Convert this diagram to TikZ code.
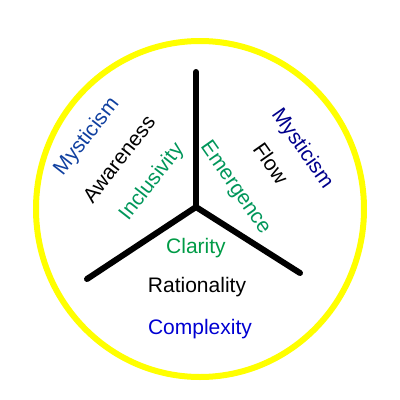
\documentclass[tikz,border=0pt]{standalone}
\usepackage{fontspec}
\setmainfont{Liberation Sans}
\usepackage{tikz}
\usetikzlibrary{positioning}
\definecolor{ringyellow}{RGB}{255,255,0}
\definecolor{mysticblue}{RGB}{16,64,160}
\definecolor{mysticnavy}{RGB}{0,0,140}
\definecolor{tealgreen}{RGB}{0,150,90}
\definecolor{claritygreen}{RGB}{0,155,70}
\definecolor{complexblue}{RGB}{0,0,210}

\begin{document}
\begin{tikzpicture}[x=1pt, y=-1pt,
  word/.style={font=\fontsize{21}{24}\selectfont, inner sep=0pt},
  spoke/.style={line width=6pt, line cap=round}]
  \useasboundingbox (0,0) rectangle (400,400);
  \draw[ringyellow, line width=6pt] (200,209) ellipse [x radius=164, y radius=168];
  \coordinate (hub) at (196,207);
  \coordinate (top) at (196,72);
  \coordinate (left) at (87,279);
  \coordinate (right) at (300,273);
  \draw[spoke] (hub) -- (top);
  \draw[spoke] (hub) -- (left);
  \draw[spoke] (hub) -- (right);
  % left sector
  \node[word, mysticblue, rotate=52] (mysticL) at (87,137) {Mysticism};
  \node[word, rotate=52] (aware) at (119,159) {Awareness};
  \node[word, tealgreen, rotate=52] (incl) at (152,182) {Inclusivity};
  % right sector
  \node[word, tealgreen, rotate=-55] (emerge) at (235,188) {Emergence};
  \node[word, rotate=-55] (flow) at (271,163) {Flow};
  \node[word, mysticnavy, rotate=-55] (mysticR) at (302,149) {Mysticism};
  % bottom sector
  \node[word, claritygreen] (clarity) at (196,248) {Clarity};
  \node[word] (ratio) at (197,287) {Rationality};
  \node[word, complexblue] (complex) at (200,329) {Complexity};
\end{tikzpicture}
\end{document}
